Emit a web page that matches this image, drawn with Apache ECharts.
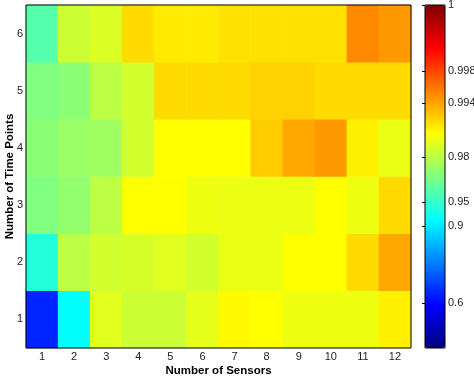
<!DOCTYPE html>
<html><head><meta charset="utf-8">
<script src="https://cdn.jsdelivr.net/npm/echarts@6/dist/echarts.min.js"></script>
<style>html,body{margin:0;padding:0;background:#fff}#c{width:474px;height:376px}</style>
</head><body><div id="c"></div>
<script>
// Categories
const sensors = ['1','2','3','4','5','6','7','8','9','10','11','12'];
const timePoints = ['1','2','3','4','5','6'];
// Accuracy values, one array per number of time points (columns = number of sensors)
const tp1 = [0.639, 0.914, 0.9834, 0.9816, 0.9816, 0.9838, 0.9865, 0.9861, 0.9847, 0.9847, 0.9847, 0.9874];
const tp2 = [0.9386, 0.9803, 0.9821, 0.9825, 0.9834, 0.9821, 0.9843, 0.9843, 0.9861, 0.9861, 0.9892, 0.9936];
const tp3 = [0.9669, 0.9715, 0.9803, 0.9861, 0.9861, 0.9847, 0.9845, 0.9845, 0.9845, 0.9861, 0.9847, 0.9892];
const tp4 = [0.9692, 0.9727, 0.9739, 0.9821, 0.9861, 0.9861, 0.9861, 0.9905, 0.9936, 0.9945, 0.9874, 0.9843];
const tp5 = [0.9669, 0.9692, 0.9803, 0.9821, 0.9892, 0.9892, 0.9892, 0.9901, 0.9901, 0.9892, 0.9892, 0.9892];
const tp6 = [0.9573, 0.9816, 0.9829, 0.9892, 0.9878, 0.9878, 0.9887, 0.9887, 0.9887, 0.9887, 0.9951, 0.9945];
// Colour-bar tick labels
const cbTickValues = [0.6, 0.9, 0.95, 0.98, 0.994, 0.998, 1];
const cbTickLabels = ['0.6', '0.9', '0.95', '0.98', '0.994', '0.998', '1'];
// Non-linear colour scale knots: value -> fraction along the colour bar
const scaleValues = [0.45, 0.6, 0.9, 0.95, 0.98, 0.994, 0.998, 1];
const scaleFrac   = [0, 0.131, 0.356, 0.426, 0.557, 0.714, 0.808, 1];

function toFrac(v) {
  if (v <= scaleValues[0]) return 0;
  for (let i = 1; i < scaleValues.length; i++) {
    if (v <= scaleValues[i]) {
      const t = (v - scaleValues[i-1]) / (scaleValues[i] - scaleValues[i-1]);
      return scaleFrac[i-1] + t * (scaleFrac[i] - scaleFrac[i-1]);
    }
  }
  return 1;
}

const rows = [tp1, tp2, tp3, tp4, tp5, tp6];
const data = [];
rows.forEach((r, yi) => r.forEach((v, xi) => data.push([xi, yi, toFrac(v), v])));
const cbFracs = cbTickValues.map(toFrac);

const jet = ['#000080','#0000ff','#0080ff','#00ffff','#80ff80','#ffff00','#ff8000','#ff0000','#800000'];
const FONT = 'Liberation Sans, Arial, Helvetica, sans-serif';

const chart = echarts.init(document.getElementById('c'), null, {renderer: 'canvas'});
chart.setOption({
  animation: false,
  backgroundColor: '#fff',
  textStyle: {fontFamily: FONT},
  grid: [
    {left: 26, top: 5, width: 385, height: 343, outerBoundsMode: 'none', containLabel: false,
     show: true, borderColor: '#000', borderWidth: 1, backgroundColor: 'transparent', z: 10},
    {left: 425, top: 5, width: 20, height: 343, outerBoundsMode: 'none', containLabel: false,
     show: true, borderColor: '#000', borderWidth: 1, backgroundColor: 'transparent', z: 10}
  ],
  xAxis: [
    {type: 'category', data: sensors, gridIndex: 0, position: 'bottom',
     axisLine: {show: false}, splitLine: {show: false},
     axisTick: {inside: true, alignWithLabel: true, length: 3, lineStyle: {color: '#000'}},
     axisLabel: {fontSize: 11, color: '#222', margin: 3, fontFamily: FONT},
     name: 'Number of Sensors', nameLocation: 'middle', nameGap: 17, nameMoveOverlap: false,
     nameTextStyle: {fontSize: 11.5, fontWeight: 'bold', color: '#000', fontFamily: FONT}, z: 10},
    {type: 'category', data: sensors, gridIndex: 0, position: 'top',
     axisLine: {show: false}, splitLine: {show: false},
     axisTick: {inside: true, alignWithLabel: true, length: 3, lineStyle: {color: '#000'}},
     axisLabel: {show: false}, z: 10},
    {type: 'value', gridIndex: 1, min: 0, max: 1, show: false}
  ],
  yAxis: [
    {type: 'category', data: timePoints, gridIndex: 0, position: 'left',
     axisLine: {show: false}, splitLine: {show: false},
     axisTick: {inside: true, alignWithLabel: true, length: 3, lineStyle: {color: '#000'}},
     axisLabel: {fontSize: 11, color: '#222', margin: 3, fontFamily: FONT},
     name: 'Number of Time Points', nameLocation: 'middle', nameGap: 10, nameRotate: 90, nameMoveOverlap: false,
     nameTextStyle: {fontSize: 11.5, fontWeight: 'bold', color: '#000', fontFamily: FONT}, z: 10},
    {type: 'category', data: timePoints, gridIndex: 0, position: 'right',
     axisLine: {show: false}, splitLine: {show: false},
     axisTick: {inside: true, alignWithLabel: true, length: 3, lineStyle: {color: '#000'}},
     axisLabel: {show: false}, z: 10},
    {type: 'value', gridIndex: 1, min: 0, max: 1, position: 'right',
     axisLine: {show: false}, splitLine: {show: false},
     axisTick: {inside: true, length: 3, customValues: cbFracs, lineStyle: {color: '#000'}},
     axisLabel: {customValues: cbFracs, fontSize: 11, color: '#222', margin: 3, fontFamily: FONT,
       formatter: function (val) {
         let best = 0, bd = Infinity;
         cbFracs.forEach((f, i) => { const d = Math.abs(f - val); if (d < bd) { bd = d; best = i; } });
         return cbTickLabels[best];
       }}, z: 10}
  ],
  visualMap: {
    type: 'continuous', min: 0, max: 1, dimension: 2, seriesIndex: 0,
    inRange: {color: jet}, calculable: false, realtime: false,
    left: 425, top: 5, itemWidth: 20, itemHeight: 343, padding: 0,
    orient: 'vertical', text: null, hoverLink: false
  },
  series: [{
    type: 'heatmap', xAxisIndex: 0, yAxisIndex: 0, data: data,
    encode: {x: 0, y: 1, value: 2},
    itemStyle: {borderWidth: 0},
    emphasis: {disabled: true}
  }]
});
</script>
</body></html>
